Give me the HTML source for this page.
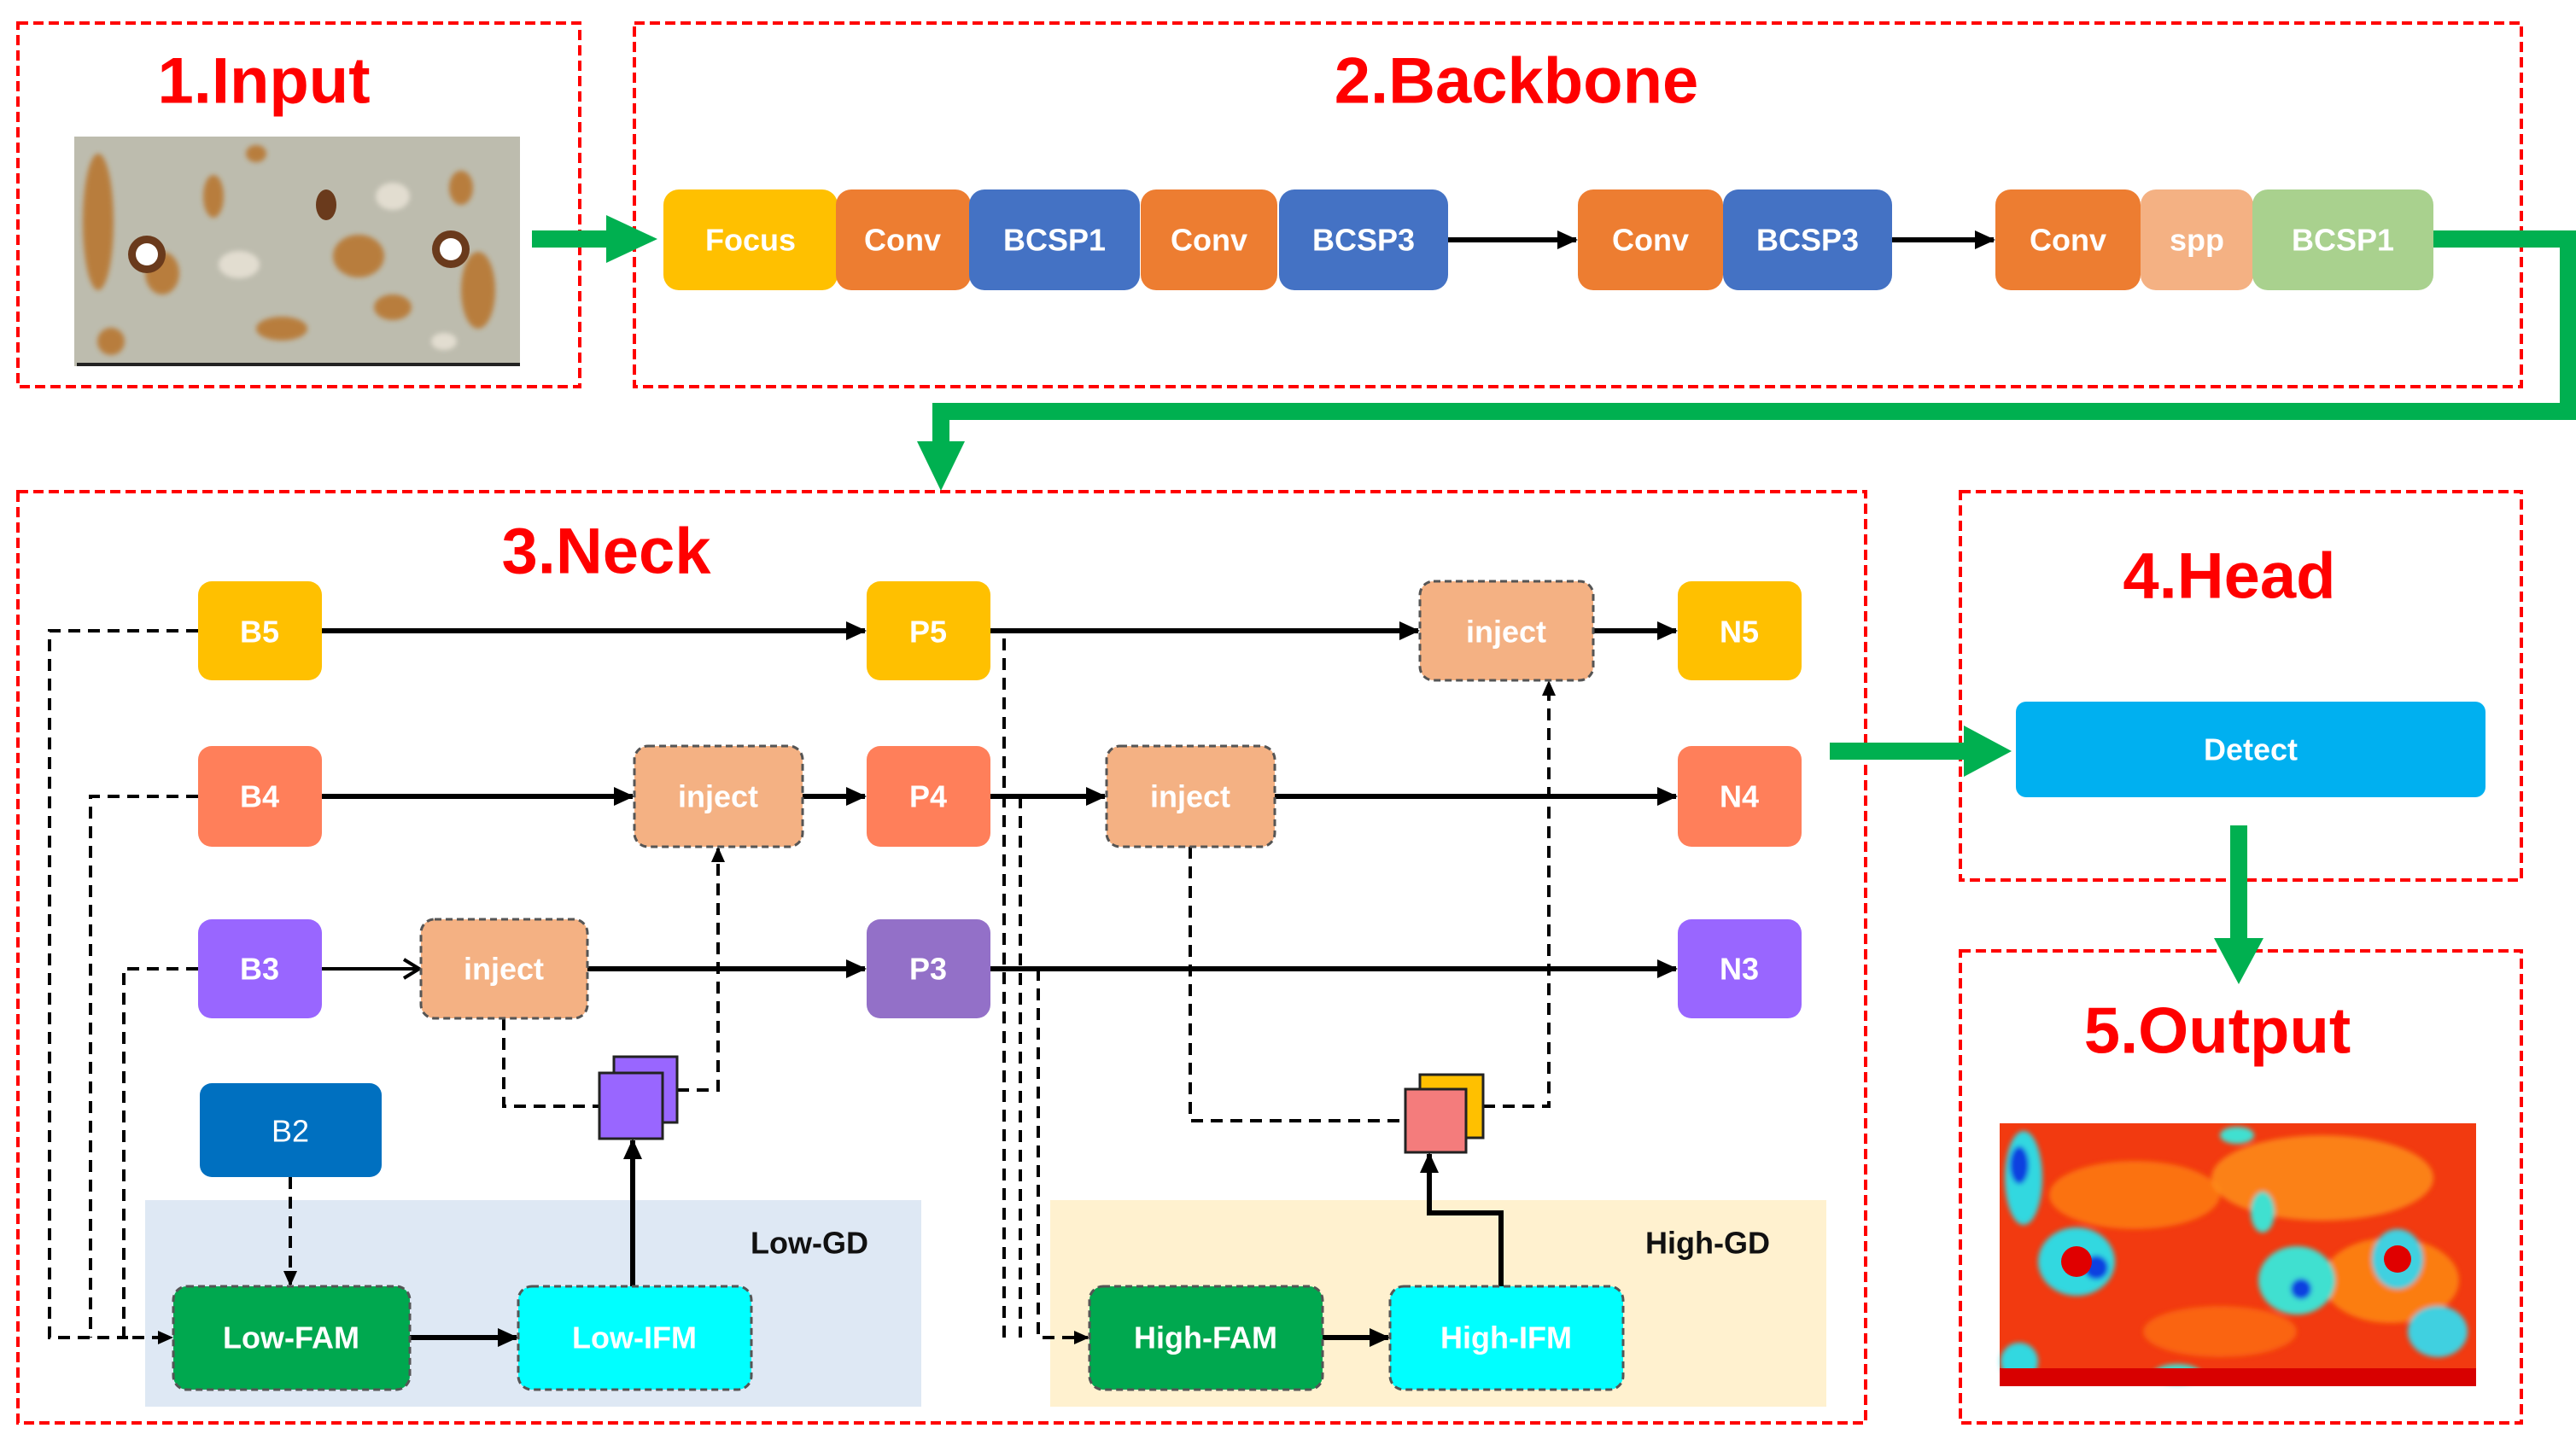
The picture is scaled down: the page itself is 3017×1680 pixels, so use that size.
<!DOCTYPE html>
<html><head><meta charset="utf-8"><style>
html,body{margin:0;padding:0;background:#fff}
svg{display:block}
.t{font-family:"Liberation Sans",sans-serif;font-weight:bold;fill:#fff;font-size:36px;text-anchor:middle;dominant-baseline:central}
.h{font-family:"Liberation Sans",sans-serif;font-weight:bold;fill:#FF0000;font-size:76px;text-anchor:middle;dominant-baseline:central}
.g{font-family:"Liberation Sans",sans-serif;font-weight:bold;fill:#111;font-size:36px;text-anchor:middle;dominant-baseline:central}
</style></head><body>
<svg width="3017" height="1680" viewBox="0 0 3017 1680" xmlns="http://www.w3.org/2000/svg">
<defs>
<marker id="a" markerWidth="24" markerHeight="22" refX="22" refY="11" orient="auto" markerUnits="userSpaceOnUse"><path d="M0,0 L24,11 L0,22 z" fill="#000"/></marker>
<marker id="ad" markerWidth="18" markerHeight="16" refX="16" refY="8" orient="auto" markerUnits="userSpaceOnUse"><path d="M0,0 L18,8 L0,16 z" fill="#000"/></marker>
<marker id="ao" markerWidth="22" markerHeight="26" refX="20" refY="13" orient="auto" markerUnits="userSpaceOnUse"><path d="M2,2 L20,13 L2,24" fill="none" stroke="#000" stroke-width="4"/></marker>
<filter id="bl"><feGaussianBlur stdDeviation="6"/></filter>
<filter id="bl2"><feGaussianBlur stdDeviation="3"/></filter>
</defs>
<g fill="none" stroke="#FF0000" stroke-width="4" stroke-dasharray="12,6">
<rect x="21" y="27" width="658" height="426"/>
<rect x="743" y="27" width="2210" height="426"/>
<rect x="21" y="576" width="2164" height="1091"/>
<rect x="2296" y="576" width="657" height="455"/>
<rect x="2296" y="1114" width="657" height="553"/>
</g>
<text class="h" x="309" y="95">1.Input</text>
<text class="h" x="1776" y="95">2.Backbone</text>
<text class="h" x="710" y="646">3.Neck</text>
<text class="h" x="2611" y="675">4.Head</text>
<text class="h" x="2597" y="1208">5.Output</text>
<!-- input photo -->
<rect x="87" y="160" width="522" height="269" fill="#bdbcae"/>
<g filter="url(#bl2)" fill="#b8732a" opacity="0.85">
<ellipse cx="115" cy="260" rx="18" ry="80"/><ellipse cx="420" cy="300" rx="30" ry="25"/><ellipse cx="560" cy="340" rx="20" ry="45"/><ellipse cx="250" cy="230" rx="12" ry="25"/><ellipse cx="330" cy="385" rx="30" ry="14"/><ellipse cx="190" cy="320" rx="20" ry="25"/><ellipse cx="540" cy="220" rx="14" ry="20"/><ellipse cx="460" cy="360" rx="22" ry="15"/><ellipse cx="130" cy="400" rx="16" ry="16"/><ellipse cx="300" cy="180" rx="12" ry="10"/>
</g>
<g fill="#e2ddd0" filter="url(#bl2)"><ellipse cx="460" cy="230" rx="20" ry="16"/><ellipse cx="280" cy="310" rx="24" ry="16"/><ellipse cx="520" cy="400" rx="15" ry="10"/></g>
<circle cx="172" cy="298" r="22" fill="#6a3a1c"/><circle cx="172" cy="298" r="13" fill="#fff"/>
<circle cx="528" cy="292" r="22" fill="#6a3a1c"/><circle cx="528" cy="292" r="13" fill="#fff"/>
<ellipse cx="382" cy="240" rx="12" ry="18" fill="#6a3a1c"/>
<line x1="90" y1="427" x2="609" y2="427" stroke="#222" stroke-width="4"/>
<!-- backbone -->
<g>
<rect x="777" y="222" width="204" height="118" rx="18" fill="#FFC000"/><text class="t" x="879" y="281">Focus</text>
<rect x="979" y="222" width="158" height="118" rx="18" fill="#ED7D31"/><text class="t" x="1057" y="281">Conv</text>
<rect x="1135" y="222" width="200" height="118" rx="18" fill="#4472C4"/><text class="t" x="1235" y="281">BCSP1</text>
<rect x="1336" y="222" width="160" height="118" rx="18" fill="#ED7D31"/><text class="t" x="1416" y="281">Conv</text>
<rect x="1498" y="222" width="198" height="118" rx="18" fill="#4472C4"/><text class="t" x="1597" y="281">BCSP3</text>
<rect x="1848" y="222" width="170" height="118" rx="18" fill="#ED7D31"/><text class="t" x="1933" y="281">Conv</text>
<rect x="2018" y="222" width="198" height="118" rx="18" fill="#4472C4"/><text class="t" x="2117" y="281">BCSP3</text>
<rect x="2337" y="222" width="170" height="118" rx="18" fill="#ED7D31"/><text class="t" x="2422" y="281">Conv</text>
<rect x="2507" y="222" width="132" height="118" rx="18" fill="#F4B183"/><text class="t" x="2573" y="281">spp</text>
<rect x="2638" y="222" width="212" height="118" rx="18" fill="#A9D18E"/><text class="t" x="2744" y="281">BCSP1</text>
</g>
<line x1="1696" y1="281" x2="1846" y2="281" stroke="#000" stroke-width="6" marker-end="url(#a)"/>
<line x1="2216" y1="281" x2="2335" y2="281" stroke="#000" stroke-width="6" marker-end="url(#a)"/>
<!-- green arrows -->
<g fill="#00B050" stroke="none">
<rect x="623" y="270" width="90" height="20"/><path d="M710,252 L770,280 L710,308 z"/>
<path d="M2850,270 L3018,270 L3018,492 L1112,492 L1112,520 L1092,520 L1092,472 L2998,472 L2998,290 L2850,290 z"/>
<path d="M1074,517 L1130,517 L1102,575 z"/>
<rect x="2143" y="870" width="160" height="20"/><path d="M2300,850 L2356,880 L2300,910 z"/>
<rect x="2612" y="967" width="20" height="135"/><path d="M2593,1099 L2651,1099 L2622,1153 z"/>
</g>
<!-- detect -->
<rect x="2361" y="822" width="550" height="112" rx="12" fill="#00B0F0"/><text class="t" x="2636" y="878">Detect</text>
<!-- output heatmap -->
<rect x="2342" y="1316" width="558" height="308" fill="#f23a10"/>
<g filter="url(#bl2)">
<ellipse cx="2500" cy="1400" rx="100" ry="40" fill="#ff8a10" opacity="0.7"/>
<ellipse cx="2720" cy="1380" rx="130" ry="50" fill="#ffa020" opacity="0.7"/>
<ellipse cx="2800" cy="1500" rx="80" ry="50" fill="#ff9a10" opacity="0.7"/>
<ellipse cx="2600" cy="1560" rx="90" ry="30" fill="#ff8010" opacity="0.6"/>
<ellipse cx="2370" cy="1380" rx="22" ry="55" fill="#30d8e0"/><ellipse cx="2365" cy="1365" rx="11" ry="22" fill="#1040e0"/>
<ellipse cx="2432" cy="1478" rx="45" ry="40" fill="#30d8e0"/><ellipse cx="2455" cy="1485" rx="14" ry="14" fill="#1040e0"/>
<ellipse cx="2690" cy="1500" rx="45" ry="40" fill="#40e0d0"/><ellipse cx="2695" cy="1510" rx="12" ry="12" fill="#1040e0"/>
<ellipse cx="2808" cy="1475" rx="30" ry="35" fill="#40d0e0"/>
<ellipse cx="2855" cy="1560" rx="35" ry="30" fill="#40d0e0"/>
<ellipse cx="2365" cy="1595" rx="22" ry="22" fill="#30d8e0"/>
<ellipse cx="2550" cy="1610" rx="28" ry="12" fill="#40e0d0"/>
<ellipse cx="2650" cy="1420" rx="14" ry="24" fill="#40e0d0"/>
<ellipse cx="2620" cy="1330" rx="20" ry="10" fill="#40e0d0"/>
</g>
<circle cx="2432" cy="1478" r="18" fill="#e00000"/>
<circle cx="2808" cy="1475" r="16" fill="#e00000"/>
<rect x="2342" y="1603" width="558" height="21" fill="#d80000"/>
<!-- neck backgrounds -->
<rect x="170" y="1406" width="909" height="242" fill="#DEE8F4"/>
<rect x="1230" y="1406" width="909" height="242" fill="#FFF1CF"/>
<text class="g" x="948" y="1456">Low-GD</text>
<text class="g" x="2000" y="1456">High-GD</text>
<!-- dashed lines -->
<g fill="none" stroke="#000" stroke-width="4" stroke-dasharray="14,9">
<polyline points="232,739 58,739 58,1567 150,1567"/>
<polyline points="232,933 106,933 106,1567"/>
<polyline points="232,1135 145,1135 145,1567 201,1567" marker-end="url(#ad)"/>
<line x1="340" y1="1379" x2="340" y2="1505" marker-end="url(#ad)"/>
<polyline points="590,1193 590,1296 702,1296"/>
<polyline points="793,1277 841,1277 841,994" marker-end="url(#ad)"/>
<polyline points="1176,748 1176,1567"/>
<polyline points="1195,933 1195,1567"/>
<polyline points="1216,1135 1216,1567 1274,1567" marker-end="url(#ad)"/>
<polyline points="1394,992 1394,1313 1646,1313"/>
<polyline points="1737,1296 1814,1296 1814,799" marker-end="url(#ad)"/>
</g>
<!-- solid connectors -->
<g fill="none" stroke="#000" stroke-width="6">
<line x1="377" y1="739" x2="1013" y2="739" marker-end="url(#a)"/>
<line x1="377" y1="933" x2="741" y2="933" marker-end="url(#a)"/>
<line x1="940" y1="933" x2="1013" y2="933" marker-end="url(#a)"/>
<line x1="377" y1="1135" x2="491" y2="1135" stroke-width="4" marker-end="url(#ao)"/>
<line x1="688" y1="1135" x2="1013" y2="1135" marker-end="url(#a)"/>
<line x1="1160" y1="739" x2="1661" y2="739" marker-end="url(#a)"/>
<line x1="1866" y1="739" x2="1963" y2="739" marker-end="url(#a)"/>
<line x1="1160" y1="933" x2="1294" y2="933" marker-end="url(#a)"/>
<line x1="1493" y1="933" x2="1963" y2="933" marker-end="url(#a)"/>
<line x1="1160" y1="1135" x2="1963" y2="1135" marker-end="url(#a)"/>
<line x1="480" y1="1567" x2="605" y2="1567" marker-end="url(#a)"/>
<line x1="741" y1="1507" x2="741" y2="1336" marker-end="url(#a)"/>
<line x1="1549" y1="1567" x2="1626" y2="1567" marker-end="url(#a)"/>
<polyline points="1758,1507 1758,1421 1674,1421 1674,1352" marker-end="url(#a)"/>
</g>
<!-- nodes -->
<rect x="232" y="681" width="145" height="116" rx="16" fill="#FFC000"/><text class="t" x="304" y="740">B5</text>
<rect x="232" y="874" width="145" height="118" rx="16" fill="#FF7F5A"/><text class="t" x="304" y="933">B4</text>
<rect x="232" y="1077" width="145" height="116" rx="16" fill="#9966FF"/><text class="t" x="304" y="1135">B3</text>
<rect x="234" y="1269" width="213" height="110" rx="14" fill="#0070C0"/><text class="t" x="340" y="1325" style="font-weight:normal">B2</text>
<rect x="1015" y="681" width="145" height="116" rx="16" fill="#FFC000"/><text class="t" x="1087" y="740">P5</text>
<rect x="1015" y="874" width="145" height="118" rx="16" fill="#FF7F5A"/><text class="t" x="1087" y="933">P4</text>
<rect x="1015" y="1077" width="145" height="116" rx="16" fill="#9370C8"/><text class="t" x="1087" y="1135">P3</text>
<rect x="1965" y="681" width="145" height="116" rx="16" fill="#FFC000"/><text class="t" x="2037" y="740">N5</text>
<rect x="1965" y="874" width="145" height="118" rx="16" fill="#FF7F5A"/><text class="t" x="2037" y="933">N4</text>
<rect x="1965" y="1077" width="145" height="116" rx="16" fill="#9966FF"/><text class="t" x="2037" y="1135">N3</text>
<g stroke="#555" stroke-width="3" stroke-dasharray="8,5">
<rect x="1663" y="681" width="203" height="116" rx="16" fill="#F4B183"/>
<rect x="743" y="874" width="197" height="118" rx="16" fill="#F4B183"/>
<rect x="1296" y="874" width="197" height="118" rx="16" fill="#F4B183"/>
<rect x="493" y="1077" width="195" height="116" rx="16" fill="#F4B183"/>
<rect x="203" y="1507" width="277" height="121" rx="16" fill="#00A84F"/>
<rect x="607" y="1507" width="273" height="121" rx="16" fill="#00FFFF"/>
<rect x="1276" y="1507" width="273" height="121" rx="16" fill="#00A84F"/>
<rect x="1628" y="1507" width="273" height="121" rx="16" fill="#00FFFF"/>
</g>
<text class="t" x="1764" y="740">inject</text>
<text class="t" x="841" y="933">inject</text>
<text class="t" x="1394" y="933">inject</text>
<text class="t" x="590" y="1135">inject</text>
<text class="t" x="341" y="1567">Low-FAM</text>
<text class="t" x="743" y="1567">Low-IFM</text>
<text class="t" x="1412" y="1567">High-FAM</text>
<text class="t" x="1764" y="1567">High-IFM</text>
<!-- squares -->
<rect x="719" y="1238" width="74" height="77" fill="#9966FF" stroke="#222" stroke-width="3"/>
<rect x="702" y="1257" width="74" height="77" fill="#9966FF" stroke="#222" stroke-width="3"/>
<rect x="1663" y="1259" width="74" height="74" fill="#FFC000" stroke="#222" stroke-width="3"/>
<rect x="1646" y="1276" width="71" height="74" fill="#F47C7C" stroke="#222" stroke-width="3"/>
</svg>
</body></html>
